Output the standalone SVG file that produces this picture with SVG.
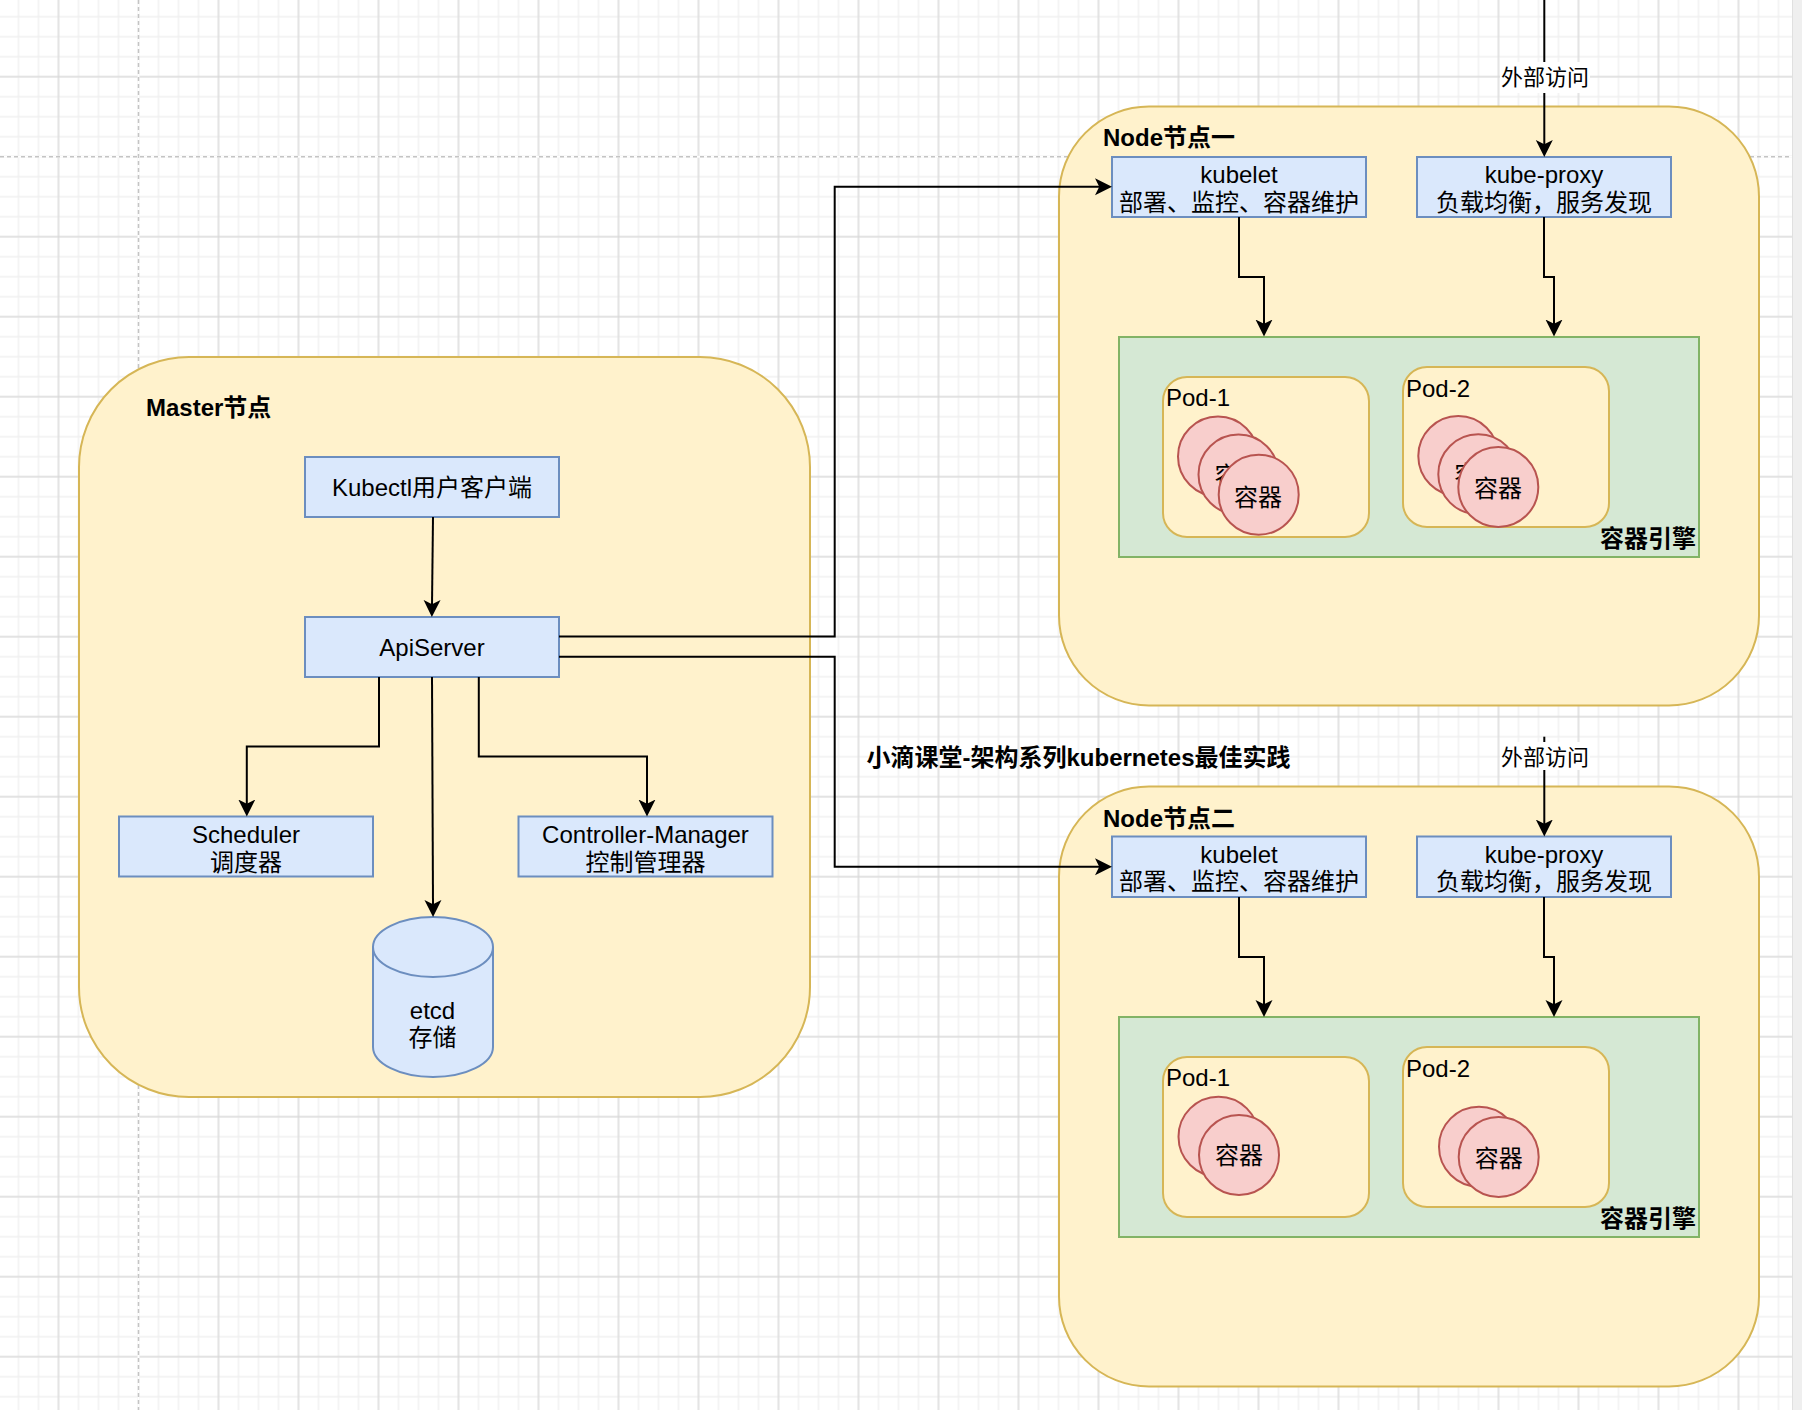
<svg xmlns="http://www.w3.org/2000/svg" width="1802" height="1410" viewBox="0 0 1802 1410">
  <defs>
    <pattern id="gridMinor" patternUnits="userSpaceOnUse" x="8.5" y="6.7" width="20" height="20">
      <path d="M10,0 V20 M0,10 H20" stroke="#f1f1f1" stroke-width="1.5" fill="none"/>
    </pattern>
    <pattern id="gridMajor" patternUnits="userSpaceOnUse" x="18.5" y="36.7" width="80" height="80">
      <path d="M40,0 V80 M0,40 H80" stroke="#d3d3d3" stroke-width="1" fill="none"/>
    </pattern>
    <marker id="arr" markerUnits="userSpaceOnUse" markerWidth="18" markerHeight="18" viewBox="0 -9 18 18" refX="5" refY="0" orient="auto">
      <path d="M17,0 L0,-8.5 L4.25,0 L0,8.5 Z" fill="#000"/>
    </marker>
    <style>
      .t { font-family: "Liberation Sans", "Noto Sans CJK SC", sans-serif; font-size: 24px; fill: #000; }
      .b { font-weight: bold; }
      .m { text-anchor: middle; }
      .s { font-size: 22px; }
      .cont { fill: #fff2cc; stroke: #d6b656; stroke-width: 2; }
      .blue { fill: #dae8fc; stroke: #6c8ebf; stroke-width: 2; }
      .green { fill: #d5e8d4; stroke: #82b366; stroke-width: 2; }
      .cir { fill: #f8cecc; stroke: #b85450; stroke-width: 2; }
      .edge { fill: none; stroke: #000; stroke-width: 2; marker-end: url(#arr); }
      .page { stroke: #c4c4c4; stroke-width: 1.5; stroke-dasharray: 4 3; fill: none; }
    </style>
  </defs>

  <!-- background grid -->
  <rect x="0" y="0" width="1802" height="1410" fill="#ffffff"/>
  <rect x="0" y="0" width="1792" height="1410" fill="url(#gridMinor)"/>
  <rect x="0" y="0" width="1792" height="1410" fill="url(#gridMajor)"/>
  <path d="M138.5,0 V1410 M0,156.7 H1792" stroke="#ffffff" stroke-width="2" fill="none"/>
  <path class="page" d="M138.5,0 V1410 M0,156.7 H1792"/>
  <rect x="1792" y="0" width="10" height="1410" fill="#efefef"/>
  <path d="M1792.5,0 V1410" stroke="#e0e0e0" stroke-width="1"/>

  <!-- containers -->
  <g id="master">
    <rect class="cont" x="79" y="357" width="731" height="740" rx="110" ry="110"/>
    <text class="t b" x="146" y="416">Master节点</text>
  </g>
  <g id="node1">
    <rect class="cont" x="1059" y="106.5" width="700" height="599" rx="90" ry="90"/>
    <text class="t b" x="1103" y="146">Node节点一</text>
  </g>
  <g id="node2">
    <rect class="cont" x="1059" y="786.5" width="700" height="600" rx="90" ry="90"/>
    <text class="t b" x="1103" y="827">Node节点二</text>
  </g>

  <!-- master components -->
  <g id="kubectl">
    <rect class="blue" x="305" y="457" width="254" height="60"/>
    <text class="t m" x="432" y="496">Kubectl用户客户端</text>
  </g>
  <g id="apiserver">
    <rect class="blue" x="305" y="617" width="254" height="60"/>
    <text class="t m" x="432" y="656">ApiServer</text>
  </g>
  <g id="scheduler">
    <rect class="blue" x="119" y="816.5" width="254" height="60"/>
    <text class="t m" x="246" y="843">Scheduler</text>
    <text class="t m" x="246" y="870.5">调度器</text>
  </g>
  <g id="controller-manager">
    <rect class="blue" x="518.5" y="816.5" width="254" height="60"/>
    <text class="t m" x="645.5" y="843">Controller-Manager</text>
    <text class="t m" x="645.5" y="870.5">控制管理器</text>
  </g>
  <g id="etcd">
    <path class="blue" d="M373,947 A60,30 0 0 1 493,947 V1047 A60,30 0 0 1 373,1047 Z"/>
    <path d="M373,947 A60,30 0 0 0 493,947" fill="none" stroke="#6c8ebf" stroke-width="2"/>
    <text class="t m" x="432.5" y="1018.5">etcd</text>
    <text class="t m" x="432.5" y="1046">存储</text>
  </g>

  <!-- node 1 components -->
  <g id="kubelet1">
    <rect class="blue" x="1112" y="157" width="254" height="60"/>
    <text class="t m" x="1239" y="182.5">kubelet</text>
    <text class="t m" x="1239" y="210.5">部署、监控、容器维护</text>
  </g>
  <g id="kubeproxy1">
    <rect class="blue" x="1417" y="157" width="254" height="60"/>
    <text class="t m" x="1544" y="182.5">kube-proxy</text>
    <text class="t m" x="1544" y="210.5">负载均衡，服务发现</text>
  </g>
  <g id="engine1">
    <rect class="green" x="1119" y="337" width="580" height="220"/>
    <text class="t b" x="1696" y="546.5" text-anchor="end">容器引擎</text>
  </g>
  <g id="pod1-node1">
    <rect class="cont" x="1163" y="377" width="206" height="160" rx="24" ry="24"/>
    <text class="t" x="1166" y="406">Pod-1</text>
    <circle class="cir" cx="1218" cy="456.5" r="40"/>
    <circle class="cir" cx="1238.5" cy="474.5" r="40"/>
    <text class="t m" x="1238.5" y="483.5">容器</text>
    <circle class="cir" cx="1258.7" cy="494.7" r="40"/>
    <text class="t m" x="1258" y="505.5">容器</text>
  </g>
  <g id="pod2-node1">
    <rect class="cont" x="1403" y="367" width="206" height="160" rx="24" ry="24"/>
    <text class="t" x="1406" y="396.5">Pod-2</text>
    <circle class="cir" cx="1458.3" cy="456" r="40"/>
    <circle class="cir" cx="1478.3" cy="474.3" r="40"/>
    <text class="t m" x="1478.3" y="483.3">容器</text>
    <circle class="cir" cx="1498.3" cy="487" r="40"/>
    <text class="t m" x="1498" y="497">容器</text>
  </g>

  <!-- node 2 components -->
  <g id="kubelet2">
    <rect class="blue" x="1112" y="836.5" width="254" height="60.5"/>
    <text class="t m" x="1239" y="862.5">kubelet</text>
    <text class="t m" x="1239" y="890">部署、监控、容器维护</text>
  </g>
  <g id="kubeproxy2">
    <rect class="blue" x="1417" y="836.5" width="254" height="60.5"/>
    <text class="t m" x="1544" y="862.5">kube-proxy</text>
    <text class="t m" x="1544" y="890">负载均衡，服务发现</text>
  </g>
  <g id="engine2">
    <rect class="green" x="1119" y="1017" width="580" height="220"/>
    <text class="t b" x="1696" y="1227" text-anchor="end">容器引擎</text>
  </g>
  <g id="pod1-node2">
    <rect class="cont" x="1163" y="1057" width="206" height="160" rx="24" ry="24"/>
    <text class="t" x="1166" y="1086">Pod-1</text>
    <circle class="cir" cx="1218.5" cy="1136.7" r="40"/>
    <circle class="cir" cx="1239" cy="1155" r="40"/>
    <text class="t m" x="1239" y="1164">容器</text>
  </g>
  <g id="pod2-node2">
    <rect class="cont" x="1403" y="1047" width="206" height="160" rx="24" ry="24"/>
    <text class="t" x="1406" y="1077">Pod-2</text>
    <circle class="cir" cx="1479" cy="1146.7" r="40"/>
    <circle class="cir" cx="1498.7" cy="1157" r="40"/>
    <text class="t m" x="1498.7" y="1166.5">容器</text>
  </g>

  <!-- title -->
  <g id="title">
    <text class="t b m" x="1078.5" y="766">小滴课堂-架构系列kubernetes最佳实践</text>
  </g>

  <!-- connectors -->
  <g id="connectors">
    <path class="edge" d="M433,517 L432,605"/>
    <path class="edge" d="M379,677 V746.6 H246.8 V804.5"/>
    <path class="edge" d="M432,677 L433,905"/>
    <path class="edge" d="M478.8,677 V756.6 H647 V804.5"/>
    <path class="edge" d="M559,636.6 H834.7 V186.8 H1100"/>
    <path class="edge" d="M559,656.7 H834.7 V866.7 H1100"/>
    <path class="edge" d="M1239,217 V277 H1264 V324.5"/>
    <path class="edge" d="M1544,217 V277 H1554 V324.5"/>
    <path class="edge" d="M1239,897 V957 H1264 V1005"/>
    <path class="edge" d="M1544,897 V957 H1554 V1005"/>
    <path class="edge" d="M1544.3,0 V145"/>
    <path class="edge" d="M1544.3,736.7 V824.5"/>
    <rect x="1500" y="62" width="90" height="31" fill="#ffffff"/>
    <text class="t s m" x="1545" y="85">外部访问</text>
    <rect x="1500" y="742" width="90" height="28" fill="#ffffff"/>
    <text class="t s m" x="1545" y="765">外部访问</text>
  </g>
</svg>
